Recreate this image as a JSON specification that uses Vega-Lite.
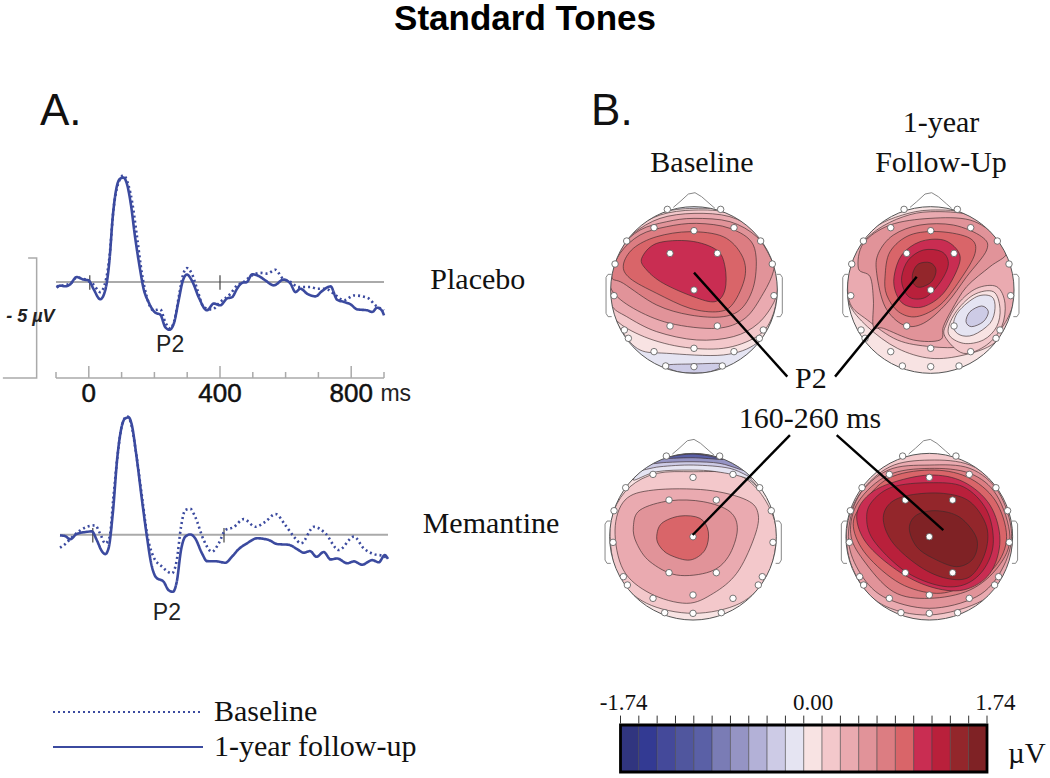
{"$schema":"https://vega.github.io/schema/vega-lite/v6.json","width":1050,"height":778,"padding":0,"autosize":{"type":"none"},"background":"white","config":{"axis":{"disable":true},"view":{"stroke":null}},
"resolve":{"scale":{"x":"independent","y":"independent"}},
"datasets":{
"electrodes":[{"x":0,"y":-178},{"x":-120,"y":-187},{"x":120,"y":-187},{"x":-72,"y":-110},{"x":70,"y":-110},{"x":0,"y":0},{"x":-240,"y":17},{"x":240,"y":17},{"x":-72,"y":108},{"x":70,"y":108},{"x":-120,"y":185},{"x":0,"y":175},{"x":120,"y":185},{"x":-209,"y":120},{"x":208,"y":120},{"x":0,"y":230},{"x":-202,"y":-147},{"x":200,"y":-147},{"x":-237,"y":-78},{"x":235,"y":-78},{"x":-80,"y":-242},{"x":80,"y":-242},{"x":-197,"y":145},{"x":196,"y":145},{"x":-85,"y":228},{"x":85,"y":228}],
"outline":[{"c":"nose","x":-62,"y":-248},{"c":"nose","x":-42,"y":-265},{"c":"nose","x":-17,"y":-288},{"c":"nose","x":3,"y":-292},{"c":"nose","x":23,"y":-280},{"c":"nose","x":48,"y":-258},{"c":"nose","x":63,"y":-245},{"c":"earL","x":-247,"y":-47},{"c":"earL","x":-258,"y":-47},{"c":"earL","x":-264,"y":-38},{"c":"earL","x":-264,"y":70},{"c":"earL","x":-258,"y":80},{"c":"earL","x":-247,"y":80},{"c":"earR","x":248,"y":-47},{"c":"earR","x":259,"y":-47},{"c":"earR","x":265,"y":-38},{"c":"earR","x":265,"y":70},{"c":"earR","x":259,"y":80},{"c":"earR","x":248,"y":80}],
"center":[{"x":0,"y":0}]
},
"layer":[
{"encoding":{"x":{"field":"ms","type":"quantitative","scale":{"domain":[-100,900],"range":[56,384],"nice":false,"zero":false}},"y":{"field":"uV","type":"quantitative","scale":{"domain":[-5,5],"range":[162,402],"nice":false,"zero":false}}},
"layer":[
{"data":{"values":[{"ms":1330,"uV":-10.5,"t":"Standard Tones"}]},"mark":{"type":"text","font":"Liberation Sans","fontSize":35,"fontWeight":"bold","align":"center","baseline":"alphabetic","color":"#000"},"encoding":{"text":{"field":"t"}}},
{"data":{"values":[{"ms":-100,"ms2":900,"uV":0}]},"mark":{"type":"rule","color":"#aaaaaa","strokeWidth":2},"encoding":{"x2":{"field":"ms2"}}},
{"data":{"values":[{"ms":-100,"ms2":900,"uV":4}]},"mark":{"type":"rule","color":"#aaaaaa","strokeWidth":1.5},"encoding":{"x2":{"field":"ms2"}}},
{"data":{"values":[{"ms":-100,"uV":3.75,"uV2":4},{"ms":0,"uV":3.5,"uV2":4},{"ms":100,"uV":3.75,"uV2":4},{"ms":200,"uV":3.75,"uV2":4},{"ms":300,"uV":3.75,"uV2":4},{"ms":400,"uV":3.5,"uV2":4},{"ms":500,"uV":3.75,"uV2":4},{"ms":600,"uV":3.75,"uV2":4},{"ms":700,"uV":3.75,"uV2":4},{"ms":800,"uV":3.5,"uV2":4},{"ms":900,"uV":3.75,"uV2":4}]},"mark":{"type":"rule","color":"#aaaaaa","strokeWidth":1.5},"encoding":{"y2":{"field":"uV2"}}},
{"data":{"values":[{"ms":-185,"uV":-1},{"ms":-159,"uV":-1},{"ms":-159,"uV":4},{"ms":-262,"uV":4}]},"mark":{"type":"line","color":"#aaaaaa","strokeWidth":1.5,"order":false}},
{"data":{"values":[{"ms":3,"uV":-0.28,"uV2":0.32},{"ms":400,"uV":-0.28,"uV2":0.32}]},"mark":{"type":"rule","color":"#444444","strokeWidth":1.2},"encoding":{"y2":{"field":"uV2"}}},
{"data":{"values":[
{"s":"Baseline","ms":-98,"uV":0.18},{"s":"Baseline","ms":-77,"uV":0.14},{"s":"Baseline","ms":-57,"uV":0.07},{"s":"Baseline","ms":-37,"uV":-0.18},{"s":"Baseline","ms":-6,"uV":-0.07},{"s":"Baseline","ms":14,"uV":0.1},{"s":"Baseline","ms":35,"uV":0.42},{"s":"Baseline","ms":53,"uV":-0.14},{"s":"Baseline","ms":63,"uV":-1.04},{"s":"Baseline","ms":75,"uV":-2.99},{"s":"Baseline","ms":88,"uV":-4.03},{"s":"Baseline","ms":106,"uV":-4.44},{"s":"Baseline","ms":121,"uV":-4.03},{"s":"Baseline","ms":133,"uV":-3.26},{"s":"Baseline","ms":147,"uV":-1.88},{"s":"Baseline","ms":162,"uV":-0.35},{"s":"Baseline","ms":177,"uV":0.63},{"s":"Baseline","ms":197,"uV":1.18},{"s":"Baseline","ms":218,"uV":1.14},{"s":"Baseline","ms":233,"uV":1.67},{"s":"Baseline","ms":248,"uV":1.94},{"s":"Baseline","ms":261,"uV":1.6},{"s":"Baseline","ms":276,"uV":0.49},{"s":"Baseline","ms":287,"uV":-0.28},{"s":"Baseline","ms":299,"uV":-0.58},{"s":"Baseline","ms":315,"uV":-0.32},{"s":"Baseline","ms":330,"uV":0.28},{"s":"Baseline","ms":350,"uV":1.04},{"s":"Baseline","ms":376,"uV":1.15},{"s":"Baseline","ms":401,"uV":0.83},{"s":"Baseline","ms":432,"uV":0.49},{"s":"Baseline","ms":452,"uV":0.14},{"s":"Baseline","ms":472,"uV":0},{"s":"Baseline","ms":498,"uV":-0.28},{"s":"Baseline","ms":523,"uV":-0.38},{"s":"Baseline","ms":544,"uV":-0.35},{"s":"Baseline","ms":569,"uV":-0.51},{"s":"Baseline","ms":589,"uV":-0.18},{"s":"Baseline","ms":615,"uV":0},{"s":"Baseline","ms":640,"uV":0.21},{"s":"Baseline","ms":676,"uV":0.21},{"s":"Baseline","ms":696,"uV":0.28},{"s":"Baseline","ms":722,"uV":0.28},{"s":"Baseline","ms":747,"uV":0.49},{"s":"Baseline","ms":778,"uV":0.76},{"s":"Baseline","ms":808,"uV":0.56},{"s":"Baseline","ms":849,"uV":0.65},{"s":"Baseline","ms":874,"uV":0.97},{"s":"Baseline","ms":900,"uV":1.18},
{"s":"1-year follow-up","ms":-98,"uV":0.24},{"s":"1-year follow-up","ms":-88,"uV":0.15},{"s":"1-year follow-up","ms":-72,"uV":0.18},{"s":"1-year follow-up","ms":-57,"uV":0.1},{"s":"1-year follow-up","ms":-37,"uV":-0.21},{"s":"1-year follow-up","ms":-16,"uV":-0.1},{"s":"1-year follow-up","ms":-1,"uV":-0.07},{"s":"1-year follow-up","ms":14,"uV":0.28},{"s":"1-year follow-up","ms":35,"uV":0.72},{"s":"1-year follow-up","ms":50,"uV":0.35},{"s":"1-year follow-up","ms":63,"uV":-0.9},{"s":"1-year follow-up","ms":73,"uV":-2.71},{"s":"1-year follow-up","ms":85,"uV":-3.96},{"s":"1-year follow-up","ms":96,"uV":-4.31},{"s":"1-year follow-up","ms":106,"uV":-4.35},{"s":"1-year follow-up","ms":116,"uV":-4.1},{"s":"1-year follow-up","ms":128,"uV":-3.26},{"s":"1-year follow-up","ms":141,"uV":-1.88},{"s":"1-year follow-up","ms":155,"uV":-0.63},{"s":"1-year follow-up","ms":167,"uV":0.28},{"s":"1-year follow-up","ms":182,"uV":0.83},{"s":"1-year follow-up","ms":203,"uV":1.28},{"s":"1-year follow-up","ms":218,"uV":1.36},{"s":"1-year follow-up","ms":233,"uV":1.88},{"s":"1-year follow-up","ms":246,"uV":1.99},{"s":"1-year follow-up","ms":259,"uV":1.74},{"s":"1-year follow-up","ms":274,"uV":0.76},{"s":"1-year follow-up","ms":287,"uV":-0.07},{"s":"1-year follow-up","ms":299,"uV":-0.31},{"s":"1-year follow-up","ms":315,"uV":-0.04},{"s":"1-year follow-up","ms":335,"uV":0.63},{"s":"1-year follow-up","ms":360,"uV":1.18},{"s":"1-year follow-up","ms":381,"uV":0.9},{"s":"1-year follow-up","ms":401,"uV":0.97},{"s":"1-year follow-up","ms":421,"uV":0.69},{"s":"1-year follow-up","ms":437,"uV":0.63},{"s":"1-year follow-up","ms":452,"uV":0.28},{"s":"1-year follow-up","ms":467,"uV":0.04},{"s":"1-year follow-up","ms":482,"uV":0},{"s":"1-year follow-up","ms":498,"uV":-0.32},{"s":"1-year follow-up","ms":518,"uV":-0.25},{"s":"1-year follow-up","ms":538,"uV":-0.07},{"s":"1-year follow-up","ms":564,"uV":0.14},{"s":"1-year follow-up","ms":594,"uV":-0.1},{"s":"1-year follow-up","ms":615,"uV":0.07},{"s":"1-year follow-up","ms":630,"uV":0.42},{"s":"1-year follow-up","ms":645,"uV":0.28},{"s":"1-year follow-up","ms":666,"uV":0.49},{"s":"1-year follow-up","ms":691,"uV":0.6},{"s":"1-year follow-up","ms":711,"uV":0.38},{"s":"1-year follow-up","ms":737,"uV":0.18},{"s":"1-year follow-up","ms":757,"uV":0.74},{"s":"1-year follow-up","ms":778,"uV":0.83},{"s":"1-year follow-up","ms":798,"uV":0.93},{"s":"1-year follow-up","ms":818,"uV":1.14},{"s":"1-year follow-up","ms":849,"uV":1.18},{"s":"1-year follow-up","ms":864,"uV":1.25},{"s":"1-year follow-up","ms":879,"uV":1.07},{"s":"1-year follow-up","ms":893,"uV":1.18},{"s":"1-year follow-up","ms":900,"uV":1.39}]},
"mark":{"type":"line","color":"#3b4a9f","strokeWidth":2.6,"interpolate":"monotone"},"encoding":{"strokeDash":{"field":"s","type":"nominal","scale":{"domain":["Baseline","1-year follow-up"],"range":[[2,3],[1,0]]},"legend":null}}},
{"data":{"values":[{"ms":248,"uV":2.9,"t":"P2"}]},"mark":{"type":"text","font":"Liberation Sans","fontSize":23,"align":"center","baseline":"alphabetic","color":"#222"},"encoding":{"text":{"field":"t"}}},
{"data":{"values":[{"ms":0,"uV":4.99,"t":"0"},{"ms":400,"uV":4.99,"t":"400"},{"ms":800,"uV":4.99,"t":"800"}]},"mark":{"type":"text","font":"Liberation Sans","fontSize":26,"align":"center","baseline":"alphabetic","color":"#111","stroke":"#111","strokeWidth":0.5},"encoding":{"text":{"field":"t"}}},
{"data":{"values":[{"ms":889,"uV":4.95,"t":"ms"}]},"mark":{"type":"text","font":"Liberation Sans","fontSize":23,"align":"left","baseline":"alphabetic","color":"#222"},"encoding":{"text":{"field":"t"}}},
{"data":{"values":[{"ms":-252,"uV":1.65,"t":"- 5  µV"}]},"mark":{"type":"text","font":"Liberation Sans","fontSize":18,"fontWeight":"bold","fontStyle":"italic","align":"left","baseline":"alphabetic","color":"#222"},"encoding":{"text":{"field":"t"}}},
{"data":{"values":[{"ms":-149,"uV":-6.54,"t":"A."}]},"mark":{"type":"text","font":"Liberation Sans","fontSize":44,"align":"left","baseline":"alphabetic","color":"#111"},"encoding":{"text":{"field":"t"}}},
{"data":{"values":[{"ms":1186,"uV":0.29,"t":"Placebo"}]},"mark":{"type":"text","font":"Liberation Serif","fontSize":30,"align":"center","baseline":"alphabetic","color":"#111"},"encoding":{"text":{"field":"t"}}}
]},
{"encoding":{"x":{"field":"ms","type":"quantitative","scale":{"domain":[-100,900],"range":[60,388],"nice":false,"zero":false}},"y":{"field":"uV","type":"quantitative","scale":{"domain":[-5,5],"range":[414.7,654.7],"nice":false,"zero":false}}},
"layer":[
{"data":{"values":[{"ms":-100,"ms2":900,"uV":0}]},"mark":{"type":"rule","color":"#aaaaaa","strokeWidth":2},"encoding":{"x2":{"field":"ms2"}}},
{"data":{"values":[{"ms":0,"uV":-0.28,"uV2":0.32},{"ms":400,"uV":-0.28,"uV2":0.32}]},"mark":{"type":"rule","color":"#444444","strokeWidth":1.2},"encoding":{"y2":{"field":"uV2"}}},
{"data":{"values":[
{"s":"Baseline","ms":-100,"uV":0.54},{"s":"Baseline","ms":-84,"uV":0.39},{"s":"Baseline","ms":-64,"uV":0.11},{"s":"Baseline","ms":-39,"uV":-0.17},{"s":"Baseline","ms":-18,"uV":-0.33},{"s":"Baseline","ms":7,"uV":-0.39},{"s":"Baseline","ms":22,"uV":-0.06},{"s":"Baseline","ms":38,"uV":0.36},{"s":"Baseline","ms":51,"uV":0.11},{"s":"Baseline","ms":63,"uV":-1.58},{"s":"Baseline","ms":75,"uV":-3.25},{"s":"Baseline","ms":88,"uV":-4.5},{"s":"Baseline","ms":104,"uV":-4.94},{"s":"Baseline","ms":119,"uV":-4.5},{"s":"Baseline","ms":132,"uV":-3.39},{"s":"Baseline","ms":150,"uV":-1.58},{"s":"Baseline","ms":165,"uV":-0.06},{"s":"Baseline","ms":185,"uV":0.92},{"s":"Baseline","ms":211,"uV":1.33},{"s":"Baseline","ms":241,"uV":1.61},{"s":"Baseline","ms":256,"uV":1.06},{"s":"Baseline","ms":269,"uV":-0.33},{"s":"Baseline","ms":282,"uV":-1.03},{"s":"Baseline","ms":297,"uV":-1.08},{"s":"Baseline","ms":312,"uV":-0.75},{"s":"Baseline","ms":338,"uV":0.22},{"s":"Baseline","ms":363,"uV":0.71},{"s":"Baseline","ms":384,"uV":0.36},{"s":"Baseline","ms":404,"uV":-0.19},{"s":"Baseline","ms":429,"uV":-0.31},{"s":"Baseline","ms":460,"uV":-0.65},{"s":"Baseline","ms":496,"uV":-0.33},{"s":"Baseline","ms":526,"uV":-0.54},{"s":"Baseline","ms":557,"uV":-0.86},{"s":"Baseline","ms":587,"uV":-0.4},{"s":"Baseline","ms":613,"uV":0.08},{"s":"Baseline","ms":635,"uV":0.36},{"s":"Baseline","ms":674,"uV":-0.33},{"s":"Baseline","ms":709,"uV":-0.06},{"s":"Baseline","ms":750,"uV":0.64},{"s":"Baseline","ms":796,"uV":0.08},{"s":"Baseline","ms":826,"uV":0.57},{"s":"Baseline","ms":857,"uV":0.81},{"s":"Baseline","ms":887,"uV":0.89},{"s":"Baseline","ms":900,"uV":1.01},
{"s":"1-year follow-up","ms":-100,"uV":0.03},{"s":"1-year follow-up","ms":-84,"uV":0.06},{"s":"1-year follow-up","ms":-69,"uV":0.19},{"s":"1-year follow-up","ms":-49,"uV":-0.03},{"s":"1-year follow-up","ms":-23,"uV":-0.11},{"s":"1-year follow-up","ms":-3,"uV":-0.14},{"s":"1-year follow-up","ms":12,"uV":0.22},{"s":"1-year follow-up","ms":27,"uV":0.67},{"s":"1-year follow-up","ms":38,"uV":0.81},{"s":"1-year follow-up","ms":48,"uV":0.57},{"s":"1-year follow-up","ms":61,"uV":-0.89},{"s":"1-year follow-up","ms":75,"uV":-3.25},{"s":"1-year follow-up","ms":88,"uV":-4.5},{"s":"1-year follow-up","ms":99,"uV":-4.85},{"s":"1-year follow-up","ms":109,"uV":-4.89},{"s":"1-year follow-up","ms":119,"uV":-4.57},{"s":"1-year follow-up","ms":132,"uV":-3.39},{"s":"1-year follow-up","ms":150,"uV":-1.44},{"s":"1-year follow-up","ms":165,"uV":0.08},{"s":"1-year follow-up","ms":177,"uV":1.13},{"s":"1-year follow-up","ms":193,"uV":1.78},{"s":"1-year follow-up","ms":216,"uV":1.96},{"s":"1-year follow-up","ms":231,"uV":2.31},{"s":"1-year follow-up","ms":244,"uV":2.38},{"s":"1-year follow-up","ms":256,"uV":1.96},{"s":"1-year follow-up","ms":269,"uV":0.64},{"s":"1-year follow-up","ms":282,"uV":0.08},{"s":"1-year follow-up","ms":297,"uV":-0.01},{"s":"1-year follow-up","ms":312,"uV":0.15},{"s":"1-year follow-up","ms":333,"uV":0.78},{"s":"1-year follow-up","ms":348,"uV":1.1},{"s":"1-year follow-up","ms":379,"uV":1.11},{"s":"1-year follow-up","ms":404,"uV":1.17},{"s":"1-year follow-up","ms":424,"uV":0.92},{"s":"1-year follow-up","ms":445,"uV":0.6},{"s":"1-year follow-up","ms":470,"uV":0.36},{"s":"1-year follow-up","ms":501,"uV":0.15},{"s":"1-year follow-up","ms":536,"uV":0.22},{"s":"1-year follow-up","ms":562,"uV":0.39},{"s":"1-year follow-up","ms":597,"uV":0.42},{"s":"1-year follow-up","ms":623,"uV":0.6},{"s":"1-year follow-up","ms":643,"uV":0.75},{"s":"1-year follow-up","ms":662,"uV":0.68},{"s":"1-year follow-up","ms":682,"uV":0.92},{"s":"1-year follow-up","ms":704,"uV":0.72},{"s":"1-year follow-up","ms":725,"uV":1.03},{"s":"1-year follow-up","ms":745,"uV":0.99},{"s":"1-year follow-up","ms":776,"uV":1.19},{"s":"1-year follow-up","ms":796,"uV":1.11},{"s":"1-year follow-up","ms":821,"uV":1.25},{"s":"1-year follow-up","ms":852,"uV":1.06},{"s":"1-year follow-up","ms":872,"uV":1.15},{"s":"1-year follow-up","ms":890,"uV":0.85},{"s":"1-year follow-up","ms":900,"uV":1.01}]},
"mark":{"type":"line","color":"#3b4a9f","strokeWidth":2.6,"interpolate":"monotone"},"encoding":{"strokeDash":{"field":"s","type":"nominal","scale":{"domain":["Baseline","1-year follow-up"],"range":[[2,3],[1,0]]},"legend":null}}},
{"data":{"values":[{"ms":226,"uV":3.55,"t":"P2"}]},"mark":{"type":"text","font":"Liberation Sans","fontSize":23,"align":"center","baseline":"alphabetic","color":"#222"},"encoding":{"text":{"field":"t"}}},
{"data":{"values":[{"ms":1214,"uV":-0.07,"t":"Memantine"}]},"mark":{"type":"text","font":"Liberation Serif","fontSize":30,"align":"center","baseline":"alphabetic","color":"#111"},"encoding":{"text":{"field":"t"}}}
]},
{"encoding":{"x":{"field":"x","type":"quantitative","scale":{"domain":[-250,250],"range":[610.7,777.3],"nice":false,"zero":false}},"y":{"field":"y","type":"quantitative","scale":{"domain":[-250,250],"range":[206.7,373.3],"nice":false,"zero":false}}},
"layer":[
{"data":{"values":[{"x":0,"y":0,"v":-0.087}]},"mark":{"type":"point","filled":true,"size":27778,"opacity":1},"encoding":{"fill":{"field":"v","type":"quantitative","scale":{"type":"threshold","domain":[-1.566,-1.392,-1.218,-1.044,-0.87,-0.696,-0.522,-0.348,-0.174,0,0.174,0.348,0.522,0.696,0.87,1.044,1.218,1.392,1.566],"range":["#30357f","#333a93","#44499a","#50569e","#5a60a6","#7a7cb5","#9594c4","#b3b1d7","#cdcbe6","#e5e4f2","#f8e3e3","#f3c8cb","#eaaab0","#e19399","#dc7d82","#d96569","#c92d52","#b9203b","#93262b","#7f2225"]},"legend":null}}},
{"data":{"values":[
{"c":1,"v":0.087,"x":-212,"y":130},{"c":1,"v":0.087,"x":-242,"y":70},{"c":1,"v":0.087,"x":-250,"y":0},{"c":1,"v":0.087,"x":-237,"y":-100},{"c":1,"v":0.087,"x":-192,"y":-175},{"c":1,"v":0.087,"x":-102,"y":-230},{"c":1,"v":0.087,"x":0,"y":-245},{"c":1,"v":0.087,"x":108,"y":-235},{"c":1,"v":0.087,"x":198,"y":-180},{"c":1,"v":0.087,"x":243,"y":-95},{"c":1,"v":0.087,"x":251,"y":0},{"c":1,"v":0.087,"x":233,"y":90},{"c":1,"v":0.087,"x":188,"y":160},{"c":1,"v":0.087,"x":88,"y":195},{"c":1,"v":0.087,"x":-82,"y":190},{"c":1,"v":0.087,"x":-162,"y":180},
{"c":2,"v":0.261,"x":-242,"y":80},{"c":2,"v":0.261,"x":-250,"y":0},{"c":2,"v":0.261,"x":-232,"y":-120},{"c":2,"v":0.261,"x":-182,"y":-180},{"c":2,"v":0.261,"x":-102,"y":-225},{"c":2,"v":0.261,"x":0,"y":-240},{"c":2,"v":0.261,"x":108,"y":-230},{"c":2,"v":0.261,"x":198,"y":-175},{"c":2,"v":0.261,"x":243,"y":-95},{"c":2,"v":0.261,"x":251,"y":0},{"c":2,"v":0.261,"x":233,"y":85},{"c":2,"v":0.261,"x":188,"y":140},{"c":2,"v":0.261,"x":88,"y":175},{"c":2,"v":0.261,"x":-42,"y":170},{"c":2,"v":0.261,"x":-162,"y":135},
{"c":3,"v":0.435,"x":-247,"y":45},{"c":3,"v":0.435,"x":-250,"y":-30},{"c":3,"v":0.435,"x":-232,"y":-115},{"c":3,"v":0.435,"x":-182,"y":-170},{"c":3,"v":0.435,"x":-102,"y":-215},{"c":3,"v":0.435,"x":0,"y":-230},{"c":3,"v":0.435,"x":108,"y":-220},{"c":3,"v":0.435,"x":188,"y":-175},{"c":3,"v":0.435,"x":238,"y":-105},{"c":3,"v":0.435,"x":250,"y":-30},{"c":3,"v":0.435,"x":243,"y":30},{"c":3,"v":0.435,"x":193,"y":100},{"c":3,"v":0.435,"x":118,"y":140},{"c":3,"v":0.435,"x":8,"y":150},{"c":3,"v":0.435,"x":-112,"y":125},{"c":3,"v":0.435,"x":-202,"y":80},
{"c":4,"v":0.609,"x":-247,"y":0},{"c":4,"v":0.609,"x":-247,"y":-60},{"c":4,"v":0.609,"x":-222,"y":-125},{"c":4,"v":0.609,"x":-162,"y":-180},{"c":4,"v":0.609,"x":-82,"y":-205},{"c":4,"v":0.609,"x":0,"y":-215},{"c":4,"v":0.609,"x":108,"y":-205},{"c":4,"v":0.609,"x":188,"y":-160},{"c":4,"v":0.609,"x":233,"y":-90},{"c":4,"v":0.609,"x":238,"y":-55},{"c":4,"v":0.609,"x":208,"y":10},{"c":4,"v":0.609,"x":153,"y":85},{"c":4,"v":0.609,"x":68,"y":115},{"c":4,"v":0.609,"x":-72,"y":100},{"c":4,"v":0.609,"x":-182,"y":55},
{"c":5,"v":0.783,"x":-247,"y":-40},{"c":5,"v":0.783,"x":-222,"y":-110},{"c":5,"v":0.783,"x":-162,"y":-165},{"c":5,"v":0.783,"x":-82,"y":-190},{"c":5,"v":0.783,"x":8,"y":-200},{"c":5,"v":0.783,"x":108,"y":-185},{"c":5,"v":0.783,"x":178,"y":-135},{"c":5,"v":0.783,"x":183,"y":-30},{"c":5,"v":0.783,"x":148,"y":50},{"c":5,"v":0.783,"x":88,"y":80},{"c":5,"v":0.783,"x":-12,"y":75},{"c":5,"v":0.783,"x":-112,"y":45},{"c":5,"v":0.783,"x":-212,"y":-20},
{"c":6,"v":0.957,"x":-212,"y":-75},{"c":6,"v":0.957,"x":-182,"y":-125},{"c":6,"v":0.957,"x":-112,"y":-160},{"c":6,"v":0.957,"x":-12,"y":-175},{"c":6,"v":0.957,"x":88,"y":-160},{"c":6,"v":0.957,"x":143,"y":-105},{"c":6,"v":0.957,"x":153,"y":-40},{"c":6,"v":0.957,"x":118,"y":40},{"c":6,"v":0.957,"x":73,"y":65},{"c":6,"v":0.957,"x":-12,"y":55},{"c":6,"v":0.957,"x":-112,"y":10},{"c":6,"v":0.957,"x":-192,"y":-35},
{"c":7,"v":1.131,"x":-157,"y":-95},{"c":7,"v":1.131,"x":-112,"y":-140},{"c":7,"v":1.131,"x":-12,"y":-147},{"c":7,"v":1.131,"x":68,"y":-120},{"c":7,"v":1.131,"x":93,"y":-70},{"c":7,"v":1.131,"x":93,"y":0},{"c":7,"v":1.131,"x":63,"y":35},{"c":7,"v":1.131,"x":-2,"y":20},{"c":7,"v":1.131,"x":-92,"y":-20},{"c":7,"v":1.131,"x":-142,"y":-60},
{"c":8,"v":-0.261,"x":-85,"y":226},{"c":8,"v":-0.261,"x":0,"y":222},{"c":8,"v":-0.261,"x":90,"y":222},{"c":8,"v":-0.261,"x":50,"y":245},{"c":8,"v":-0.261,"x":0,"y":249},{"c":8,"v":-0.261,"x":-50,"y":245}]},
"mark":{"type":"line","interpolate":"cardinal-closed","order":false,"stroke":"#3a2a2a","strokeWidth":0.8,"strokeOpacity":0.8},"encoding":{"detail":{"field":"c"},"fill":{"field":"v","type":"quantitative","scale":{"type":"threshold","domain":[-1.566,-1.392,-1.218,-1.044,-0.87,-0.696,-0.522,-0.348,-0.174,0,0.174,0.348,0.522,0.696,0.87,1.044,1.218,1.392,1.566],"range":["#30357f","#333a93","#44499a","#50569e","#5a60a6","#7a7cb5","#9594c4","#b3b1d7","#cdcbe6","#e5e4f2","#f8e3e3","#f3c8cb","#eaaab0","#e19399","#dc7d82","#d96569","#c92d52","#b9203b","#93262b","#7f2225"]},"legend":null}}},
{"data":{"name":"center"},"mark":{"type":"point","filled":false,"size":31900,"stroke":"white","strokeWidth":12,"opacity":1}},
{"data":{"name":"center"},"mark":{"type":"point","filled":false,"size":27778,"stroke":"#555555","strokeWidth":1,"opacity":1}},
{"data":{"name":"outline"},"mark":{"type":"line","order":false,"stroke":"#888888","strokeWidth":1},"encoding":{"detail":{"field":"c"}}},
{"data":{"name":"electrodes"},"mark":{"type":"point","filled":true,"size":42,"fill":"white","stroke":"#555555","strokeWidth":0.8,"opacity":1}},
{"data":{"values":[{"x":0,"y":-52,"x2":280,"y2":260}]},"mark":{"type":"rule","color":"#000","strokeWidth":2.4},"encoding":{"x2":{"field":"x2"},"y2":{"field":"y2"}}},
{"data":{"values":[{"x":24,"y":-354,"t":"Baseline"},{"x":351,"y":294,"t":"P2"},{"x":348,"y":414,"t":"160-260 ms"}]},"mark":{"type":"text","font":"Liberation Serif","fontSize":30,"align":"center","baseline":"alphabetic","color":"#111"},"encoding":{"text":{"field":"t"}}},
{"data":{"values":[{"x":-309,"y":-495,"t":"B."}]},"mark":{"type":"text","font":"Liberation Sans","fontSize":44,"align":"left","baseline":"alphabetic","color":"#111"},"encoding":{"text":{"field":"t"}}}
]},
{"encoding":{"x":{"field":"x","type":"quantitative","scale":{"domain":[-250,250],"range":[847.4,1014],"nice":false,"zero":false}},"y":{"field":"y","type":"quantitative","scale":{"domain":[-250,250],"range":[206.7,373.3],"nice":false,"zero":false}}},
"layer":[
{"data":{"values":[{"x":0,"y":0,"v":0.087}]},"mark":{"type":"point","filled":true,"size":27778,"opacity":1},"encoding":{"fill":{"field":"v","type":"quantitative","scale":{"type":"threshold","domain":[-1.566,-1.392,-1.218,-1.044,-0.87,-0.696,-0.522,-0.348,-0.174,0,0.174,0.348,0.522,0.696,0.87,1.044,1.218,1.392,1.566],"range":["#30357f","#333a93","#44499a","#50569e","#5a60a6","#7a7cb5","#9594c4","#b3b1d7","#cdcbe6","#e5e4f2","#f8e3e3","#f3c8cb","#eaaab0","#e19399","#dc7d82","#d96569","#c92d52","#b9203b","#93262b","#7f2225"]},"legend":null}}},
{"data":{"values":[
{"c":1,"v":0.261,"x":-245,"y":40},{"c":1,"v":0.261,"x":-250,"y":-40},{"c":1,"v":0.261,"x":-225,"y":-130},{"c":1,"v":0.261,"x":-165,"y":-190},{"c":1,"v":0.261,"x":-85,"y":-225},{"c":1,"v":0.261,"x":0,"y":-240},{"c":1,"v":0.261,"x":118,"y":-230},{"c":1,"v":0.261,"x":198,"y":-180},{"c":1,"v":0.261,"x":243,"y":-85},{"c":1,"v":0.261,"x":250,"y":0},{"c":1,"v":0.261,"x":238,"y":90},{"c":1,"v":0.261,"x":190,"y":160},{"c":1,"v":0.261,"x":100,"y":195},{"c":1,"v":0.261,"x":0,"y":205},{"c":1,"v":0.261,"x":-100,"y":175},{"c":1,"v":0.261,"x":-190,"y":110},
{"c":2,"v":0.435,"x":-242,"y":40},{"c":2,"v":0.435,"x":-247,"y":-50},{"c":2,"v":0.435,"x":-222,"y":-120},{"c":2,"v":0.435,"x":-162,"y":-180},{"c":2,"v":0.435,"x":-82,"y":-220},{"c":2,"v":0.435,"x":0,"y":-235},{"c":2,"v":0.435,"x":118,"y":-225},{"c":2,"v":0.435,"x":198,"y":-175},{"c":2,"v":0.435,"x":243,"y":-80},{"c":2,"v":0.435,"x":251,"y":0},{"c":2,"v":0.435,"x":238,"y":70},{"c":2,"v":0.435,"x":188,"y":140},{"c":2,"v":0.435,"x":100,"y":170},{"c":2,"v":0.435,"x":0,"y":170},{"c":2,"v":0.435,"x":-100,"y":150},{"c":2,"v":0.435,"x":-190,"y":90},
{"c":3,"v":0.609,"x":-217,"y":-65},{"c":3,"v":0.609,"x":-202,"y":-140},{"c":3,"v":0.609,"x":-122,"y":-195},{"c":3,"v":0.609,"x":-2,"y":-215},{"c":3,"v":0.609,"x":118,"y":-210},{"c":3,"v":0.609,"x":198,"y":-160},{"c":3,"v":0.609,"x":228,"y":-110},{"c":3,"v":0.609,"x":178,"y":-70},{"c":3,"v":0.609,"x":108,"y":-10},{"c":3,"v":0.609,"x":63,"y":60},{"c":3,"v":0.609,"x":38,"y":110},{"c":3,"v":0.609,"x":28,"y":150},{"c":3,"v":0.609,"x":-52,"y":150},{"c":3,"v":0.609,"x":-142,"y":115},{"c":3,"v":0.609,"x":-172,"y":110},{"c":3,"v":0.609,"x":-172,"y":30},{"c":3,"v":0.609,"x":-182,"y":-40},
{"c":4,"v":0.783,"x":-162,"y":-50},{"c":4,"v":0.783,"x":-157,"y":-110},{"c":4,"v":0.783,"x":-112,"y":-165},{"c":4,"v":0.783,"x":-32,"y":-195},{"c":4,"v":0.783,"x":68,"y":-195},{"c":4,"v":0.783,"x":153,"y":-160},{"c":4,"v":0.783,"x":168,"y":-120},{"c":4,"v":0.783,"x":108,"y":-40},{"c":4,"v":0.783,"x":48,"y":40},{"c":4,"v":0.783,"x":-22,"y":100},{"c":4,"v":0.783,"x":-82,"y":105},{"c":4,"v":0.783,"x":-137,"y":50},
{"c":5,"v":0.957,"x":-137,"y":-40},{"c":5,"v":0.957,"x":-122,"y":-115},{"c":5,"v":0.957,"x":-62,"y":-165},{"c":5,"v":0.957,"x":28,"y":-175},{"c":5,"v":0.957,"x":118,"y":-155},{"c":5,"v":0.957,"x":133,"y":-110},{"c":5,"v":0.957,"x":88,"y":-30},{"c":5,"v":0.957,"x":28,"y":45},{"c":5,"v":0.957,"x":-42,"y":80},{"c":5,"v":0.957,"x":-97,"y":65},{"c":5,"v":0.957,"x":-132,"y":15},
{"c":6,"v":1.131,"x":-110,"y":-40},{"c":6,"v":1.131,"x":-87,"y":-105},{"c":6,"v":1.131,"x":-32,"y":-145},{"c":6,"v":1.131,"x":38,"y":-150},{"c":6,"v":1.131,"x":83,"y":-115},{"c":6,"v":1.131,"x":83,"y":-70},{"c":6,"v":1.131,"x":38,"y":10},{"c":6,"v":1.131,"x":-22,"y":50},{"c":6,"v":1.131,"x":-77,"y":45},{"c":6,"v":1.131,"x":-104,"y":10},
{"c":7,"v":1.305,"x":-87,"y":-40},{"c":7,"v":1.305,"x":-67,"y":-90},{"c":7,"v":1.305,"x":-22,"y":-120},{"c":7,"v":1.305,"x":33,"y":-115},{"c":7,"v":1.305,"x":53,"y":-80},{"c":7,"v":1.305,"x":33,"y":-30},{"c":7,"v":1.305,"x":-12,"y":20},{"c":7,"v":1.305,"x":-57,"y":25},{"c":7,"v":1.305,"x":-80,"y":0},
{"c":8,"v":1.479,"x":-54,"y":-50},{"c":8,"v":1.479,"x":-37,"y":-78},{"c":8,"v":1.479,"x":-2,"y":-82},{"c":8,"v":1.479,"x":16,"y":-60},{"c":8,"v":1.479,"x":3,"y":-25},{"c":8,"v":1.479,"x":-32,"y":-8},{"c":8,"v":1.479,"x":-52,"y":-20},
{"c":9,"v":0.261,"x":43,"y":140},{"c":9,"v":0.261,"x":48,"y":100},{"c":9,"v":0.261,"x":83,"y":40},{"c":9,"v":0.261,"x":138,"y":-5},{"c":9,"v":0.261,"x":198,"y":-10},{"c":9,"v":0.261,"x":223,"y":40},{"c":9,"v":0.261,"x":213,"y":110},{"c":9,"v":0.261,"x":168,"y":165},{"c":9,"v":0.261,"x":98,"y":190},
{"c":10,"v":0.087,"x":53,"y":130},{"c":10,"v":0.087,"x":73,"y":70},{"c":10,"v":0.087,"x":128,"y":15},{"c":10,"v":0.087,"x":188,"y":5},{"c":10,"v":0.087,"x":208,"y":55},{"c":10,"v":0.087,"x":198,"y":110},{"c":10,"v":0.087,"x":158,"y":150},{"c":10,"v":0.087,"x":98,"y":160},
{"c":11,"v":-0.087,"x":68,"y":110},{"c":11,"v":-0.087,"x":83,"y":65},{"c":11,"v":-0.087,"x":138,"y":20},{"c":11,"v":-0.087,"x":183,"y":20},{"c":11,"v":-0.087,"x":193,"y":55},{"c":11,"v":-0.087,"x":178,"y":100},{"c":11,"v":-0.087,"x":128,"y":135},{"c":11,"v":-0.087,"x":88,"y":135},
{"c":12,"v":-0.261,"x":106,"y":95},{"c":12,"v":-0.261,"x":118,"y":65},{"c":12,"v":-0.261,"x":153,"y":48},{"c":12,"v":-0.261,"x":173,"y":65},{"c":12,"v":-0.261,"x":158,"y":95},{"c":12,"v":-0.261,"x":123,"y":110}]},
"mark":{"type":"line","interpolate":"cardinal-closed","order":false,"stroke":"#3a2a2a","strokeWidth":0.8,"strokeOpacity":0.8},"encoding":{"detail":{"field":"c"},"fill":{"field":"v","type":"quantitative","scale":{"type":"threshold","domain":[-1.566,-1.392,-1.218,-1.044,-0.87,-0.696,-0.522,-0.348,-0.174,0,0.174,0.348,0.522,0.696,0.87,1.044,1.218,1.392,1.566],"range":["#30357f","#333a93","#44499a","#50569e","#5a60a6","#7a7cb5","#9594c4","#b3b1d7","#cdcbe6","#e5e4f2","#f8e3e3","#f3c8cb","#eaaab0","#e19399","#dc7d82","#d96569","#c92d52","#b9203b","#93262b","#7f2225"]},"legend":null}}},
{"data":{"name":"center"},"mark":{"type":"point","filled":false,"size":31900,"stroke":"white","strokeWidth":12,"opacity":1}},
{"data":{"name":"center"},"mark":{"type":"point","filled":false,"size":27778,"stroke":"#555555","strokeWidth":1,"opacity":1}},
{"data":{"name":"outline"},"mark":{"type":"line","order":false,"stroke":"#888888","strokeWidth":1},"encoding":{"detail":{"field":"c"}}},
{"data":{"name":"electrodes"},"mark":{"type":"point","filled":true,"size":42,"fill":"white","stroke":"#555555","strokeWidth":0.8,"opacity":1}},
{"data":{"values":[{"x":-42,"y":-40,"x2":-287,"y2":260}]},"mark":{"type":"rule","color":"#000","strokeWidth":2.4},"encoding":{"x2":{"field":"x2"},"y2":{"field":"y2"}}},
{"data":{"values":[{"x":31,"y":-474,"t":"1-year"},{"x":31,"y":-354,"t":"Follow-Up"}]},"mark":{"type":"text","font":"Liberation Serif","fontSize":30,"align":"center","baseline":"alphabetic","color":"#111"},"encoding":{"text":{"field":"t"}}}
]},
{"encoding":{"x":{"field":"x","type":"quantitative","scale":{"domain":[-250,250],"range":[609.7,776.3],"nice":false,"zero":false}},"y":{"field":"y","type":"quantitative","scale":{"domain":[-250,250],"range":[453.4,620],"nice":false,"zero":false}}},
"layer":[
{"data":{"values":[{"x":0,"y":0,"v":0.087}]},"mark":{"type":"point","filled":true,"size":27778,"opacity":1},"encoding":{"fill":{"field":"v","type":"quantitative","scale":{"type":"threshold","domain":[-1.566,-1.392,-1.218,-1.044,-0.87,-0.696,-0.522,-0.348,-0.174,0,0.174,0.348,0.522,0.696,0.87,1.044,1.218,1.392,1.566],"range":["#30357f","#333a93","#44499a","#50569e","#5a60a6","#7a7cb5","#9594c4","#b3b1d7","#cdcbe6","#e5e4f2","#f8e3e3","#f3c8cb","#eaaab0","#e19399","#dc7d82","#d96569","#c92d52","#b9203b","#93262b","#7f2225"]},"legend":null}}},
{"data":{"values":[
{"c":1,"v":0.261,"x":-249,"y":0},{"c":1,"v":0.261,"x":-237,"y":-80},{"c":1,"v":0.261,"x":-189,"y":-150},{"c":1,"v":0.261,"x":-109,"y":-190},{"c":1,"v":0.261,"x":1,"y":-195},{"c":1,"v":0.261,"x":121,"y":-190},{"c":1,"v":0.261,"x":191,"y":-145},{"c":1,"v":0.261,"x":241,"y":-60},{"c":1,"v":0.261,"x":249,"y":20},{"c":1,"v":0.261,"x":221,"y":120},{"c":1,"v":0.261,"x":141,"y":200},{"c":1,"v":0.261,"x":1,"y":230},{"c":1,"v":0.261,"x":-139,"y":200},{"c":1,"v":0.261,"x":-224,"y":120},
{"c":2,"v":0.435,"x":-234,"y":-20},{"c":2,"v":0.435,"x":-204,"y":-110},{"c":2,"v":0.435,"x":-119,"y":-140},{"c":2,"v":0.435,"x":41,"y":-140},{"c":2,"v":0.435,"x":161,"y":-110},{"c":2,"v":0.435,"x":196,"y":-65},{"c":2,"v":0.435,"x":181,"y":10},{"c":2,"v":0.435,"x":131,"y":110},{"c":2,"v":0.435,"x":61,"y":170},{"c":2,"v":0.435,"x":-19,"y":200},{"c":2,"v":0.435,"x":-129,"y":170},{"c":2,"v":0.435,"x":-209,"y":100},
{"c":3,"v":0.609,"x":-179,"y":-30},{"c":3,"v":0.609,"x":-159,"y":-80},{"c":3,"v":0.609,"x":-69,"y":-108},{"c":3,"v":0.609,"x":31,"y":-105},{"c":3,"v":0.609,"x":111,"y":-75},{"c":3,"v":0.609,"x":133,"y":-20},{"c":3,"v":0.609,"x":106,"y":60},{"c":3,"v":0.609,"x":51,"y":105},{"c":3,"v":0.609,"x":-49,"y":115},{"c":3,"v":0.609,"x":-129,"y":75},{"c":3,"v":0.609,"x":-169,"y":20},
{"c":4,"v":0.957,"x":-109,"y":0},{"c":4,"v":0.957,"x":-94,"y":-40},{"c":4,"v":0.957,"x":-39,"y":-62},{"c":4,"v":0.957,"x":21,"y":-55},{"c":4,"v":0.957,"x":46,"y":-15},{"c":4,"v":0.957,"x":36,"y":40},{"c":4,"v":0.957,"x":-9,"y":70},{"c":4,"v":0.957,"x":-69,"y":55},{"c":4,"v":0.957,"x":-99,"y":30},
{"c":5,"v":-0.087,"x":-179,"y":-170},{"c":5,"v":-0.087,"x":-129,"y":-220},{"c":5,"v":-0.087,"x":-69,"y":-245},{"c":5,"v":-0.087,"x":0,"y":-250},{"c":5,"v":-0.087,"x":71,"y":-240},{"c":5,"v":-0.087,"x":141,"y":-205},{"c":5,"v":-0.087,"x":201,"y":-140},{"c":5,"v":-0.087,"x":161,"y":-175},{"c":5,"v":-0.087,"x":71,"y":-195},{"c":5,"v":-0.087,"x":-9,"y":-200},{"c":5,"v":-0.087,"x":-109,"y":-195},
{"c":6,"v":-0.261,"x":-159,"y":-200},{"c":6,"v":-0.261,"x":-109,"y":-235},{"c":6,"v":-0.261,"x":0,"y":-248},{"c":6,"v":-0.261,"x":101,"y":-235},{"c":6,"v":-0.261,"x":181,"y":-175},{"c":6,"v":-0.261,"x":111,"y":-205},{"c":6,"v":-0.261,"x":1,"y":-215},{"c":6,"v":-0.261,"x":-99,"y":-210},
{"c":7,"v":-0.609,"x":-124,"y":-220},{"c":7,"v":-0.609,"x":-69,"y":-242},{"c":7,"v":-0.609,"x":0,"y":-248},{"c":7,"v":-0.609,"x":81,"y":-238},{"c":7,"v":-0.609,"x":151,"y":-200},{"c":7,"v":-0.609,"x":81,"y":-220},{"c":7,"v":-0.609,"x":0,"y":-225},{"c":7,"v":-0.609,"x":-79,"y":-223},
{"c":8,"v":-0.957,"x":-94,"y":-235},{"c":8,"v":-0.957,"x":0,"y":-248},{"c":8,"v":-0.957,"x":91,"y":-232},{"c":8,"v":-0.957,"x":0,"y":-237}]},
"mark":{"type":"line","interpolate":"cardinal-closed","order":false,"stroke":"#3a2a2a","strokeWidth":0.8,"strokeOpacity":0.8},"encoding":{"detail":{"field":"c"},"fill":{"field":"v","type":"quantitative","scale":{"type":"threshold","domain":[-1.566,-1.392,-1.218,-1.044,-0.87,-0.696,-0.522,-0.348,-0.174,0,0.174,0.348,0.522,0.696,0.87,1.044,1.218,1.392,1.566],"range":["#30357f","#333a93","#44499a","#50569e","#5a60a6","#7a7cb5","#9594c4","#b3b1d7","#cdcbe6","#e5e4f2","#f8e3e3","#f3c8cb","#eaaab0","#e19399","#dc7d82","#d96569","#c92d52","#b9203b","#93262b","#7f2225"]},"legend":null}}},
{"data":{"name":"center"},"mark":{"type":"point","filled":false,"size":31900,"stroke":"white","strokeWidth":12,"opacity":1}},
{"data":{"name":"center"},"mark":{"type":"point","filled":false,"size":27778,"stroke":"#555555","strokeWidth":1,"opacity":1}},
{"data":{"name":"outline"},"mark":{"type":"line","order":false,"stroke":"#888888","strokeWidth":1},"encoding":{"detail":{"field":"c"}}},
{"data":{"name":"electrodes"},"mark":{"type":"point","filled":true,"size":42,"fill":"white","stroke":"#555555","strokeWidth":0.8,"opacity":1}},
{"data":{"values":[{"x":-1,"y":-5,"x2":291,"y2":-305}]},"mark":{"type":"rule","color":"#000","strokeWidth":2.4},"encoding":{"x2":{"field":"x2"},"y2":{"field":"y2"}}}
]},
{"encoding":{"x":{"field":"x","type":"quantitative","scale":{"domain":[-250,250],"range":[846,1012.6],"nice":false,"zero":false}},"y":{"field":"y","type":"quantitative","scale":{"domain":[-250,250],"range":[453.4,620],"nice":false,"zero":false}}},
"layer":[
{"data":{"values":[{"x":0,"y":0,"v":0.261}]},"mark":{"type":"point","filled":true,"size":27778,"opacity":1},"encoding":{"fill":{"field":"v","type":"quantitative","scale":{"type":"threshold","domain":[-1.566,-1.392,-1.218,-1.044,-0.87,-0.696,-0.522,-0.348,-0.174,0,0.174,0.348,0.522,0.696,0.87,1.044,1.218,1.392,1.566],"range":["#30357f","#333a93","#44499a","#50569e","#5a60a6","#7a7cb5","#9594c4","#b3b1d7","#cdcbe6","#e5e4f2","#f8e3e3","#f3c8cb","#eaaab0","#e19399","#dc7d82","#d96569","#c92d52","#b9203b","#93262b","#7f2225"]},"legend":null}}},
{"data":{"values":[
{"c":1,"v":0.435,"x":-248,"y":-20},{"c":1,"v":0.435,"x":-208,"y":-130},{"c":1,"v":0.435,"x":-118,"y":-210},{"c":1,"v":0.435,"x":0,"y":-230},{"c":1,"v":0.435,"x":122,"y":-215},{"c":1,"v":0.435,"x":212,"y":-145},{"c":1,"v":0.435,"x":250,"y":-20},{"c":1,"v":0.435,"x":232,"y":100},{"c":1,"v":0.435,"x":162,"y":190},{"c":1,"v":0.435,"x":0,"y":235},{"c":1,"v":0.435,"x":-148,"y":200},{"c":1,"v":0.435,"x":-228,"y":100},
{"c":2,"v":0.609,"x":-243,"y":0},{"c":2,"v":0.609,"x":-213,"y":-120},{"c":2,"v":0.609,"x":-123,"y":-200},{"c":2,"v":0.609,"x":0,"y":-215},{"c":2,"v":0.609,"x":122,"y":-205},{"c":2,"v":0.609,"x":207,"y":-135},{"c":2,"v":0.609,"x":247,"y":-10},{"c":2,"v":0.609,"x":217,"y":100},{"c":2,"v":0.609,"x":142,"y":180},{"c":2,"v":0.609,"x":0,"y":215},{"c":2,"v":0.609,"x":-138,"y":180},{"c":2,"v":0.609,"x":-213,"y":100},
{"c":3,"v":0.783,"x":-236,"y":-10},{"c":3,"v":0.783,"x":-213,"y":-105},{"c":3,"v":0.783,"x":-123,"y":-185},{"c":3,"v":0.783,"x":0,"y":-205},{"c":3,"v":0.783,"x":122,"y":-190},{"c":3,"v":0.783,"x":202,"y":-125},{"c":3,"v":0.783,"x":242,"y":0},{"c":3,"v":0.783,"x":207,"y":90},{"c":3,"v":0.783,"x":122,"y":160},{"c":3,"v":0.783,"x":0,"y":185},{"c":3,"v":0.783,"x":-108,"y":165},{"c":3,"v":0.783,"x":-198,"y":70},
{"c":4,"v":0.957,"x":-228,"y":-30},{"c":4,"v":0.957,"x":-203,"y":-95},{"c":4,"v":0.957,"x":-123,"y":-175},{"c":4,"v":0.957,"x":0,"y":-200},{"c":4,"v":0.957,"x":112,"y":-180},{"c":4,"v":0.957,"x":197,"y":-110},{"c":4,"v":0.957,"x":232,"y":0},{"c":4,"v":0.957,"x":197,"y":90},{"c":4,"v":0.957,"x":112,"y":145},{"c":4,"v":0.957,"x":22,"y":170},{"c":4,"v":0.957,"x":-88,"y":140},{"c":4,"v":0.957,"x":-188,"y":55},
{"c":5,"v":1.131,"x":-218,"y":-60},{"c":5,"v":1.131,"x":-188,"y":-120},{"c":5,"v":1.131,"x":-118,"y":-160},{"c":5,"v":1.131,"x":0,"y":-185},{"c":5,"v":1.131,"x":102,"y":-165},{"c":5,"v":1.131,"x":182,"y":-95},{"c":5,"v":1.131,"x":212,"y":10},{"c":5,"v":1.131,"x":182,"y":110},{"c":5,"v":1.131,"x":102,"y":160},{"c":5,"v":1.131,"x":2,"y":150},{"c":5,"v":1.131,"x":-98,"y":100},{"c":5,"v":1.131,"x":-188,"y":20},
{"c":6,"v":1.305,"x":-188,"y":-60},{"c":6,"v":1.305,"x":-168,"y":-110},{"c":6,"v":1.305,"x":-108,"y":-150},{"c":6,"v":1.305,"x":0,"y":-162},{"c":6,"v":1.305,"x":102,"y":-150},{"c":6,"v":1.305,"x":172,"y":-80},{"c":6,"v":1.305,"x":192,"y":20},{"c":6,"v":1.305,"x":162,"y":100},{"c":6,"v":1.305,"x":102,"y":145},{"c":6,"v":1.305,"x":22,"y":145},{"c":6,"v":1.305,"x":-78,"y":100},{"c":6,"v":1.305,"x":-168,"y":10},
{"c":7,"v":1.479,"x":-138,"y":-50},{"c":7,"v":1.479,"x":-118,"y":-100},{"c":7,"v":1.479,"x":-58,"y":-125},{"c":7,"v":1.479,"x":42,"y":-130},{"c":7,"v":1.479,"x":122,"y":-105},{"c":7,"v":1.479,"x":172,"y":-30},{"c":7,"v":1.479,"x":167,"y":50},{"c":7,"v":1.479,"x":122,"y":120},{"c":7,"v":1.479,"x":52,"y":125},{"c":7,"v":1.479,"x":-28,"y":90},{"c":7,"v":1.479,"x":-108,"y":20},
{"c":8,"v":1.653,"x":-60,"y":-25},{"c":8,"v":1.653,"x":-38,"y":-65},{"c":8,"v":1.653,"x":22,"y":-78},{"c":8,"v":1.653,"x":92,"y":-58},{"c":8,"v":1.653,"x":142,"y":5},{"c":8,"v":1.653,"x":132,"y":65},{"c":8,"v":1.653,"x":82,"y":90},{"c":8,"v":1.653,"x":12,"y":65},{"c":8,"v":1.653,"x":-38,"y":30}]},
"mark":{"type":"line","interpolate":"cardinal-closed","order":false,"stroke":"#3a2a2a","strokeWidth":0.8,"strokeOpacity":0.8},"encoding":{"detail":{"field":"c"},"fill":{"field":"v","type":"quantitative","scale":{"type":"threshold","domain":[-1.566,-1.392,-1.218,-1.044,-0.87,-0.696,-0.522,-0.348,-0.174,0,0.174,0.348,0.522,0.696,0.87,1.044,1.218,1.392,1.566],"range":["#30357f","#333a93","#44499a","#50569e","#5a60a6","#7a7cb5","#9594c4","#b3b1d7","#cdcbe6","#e5e4f2","#f8e3e3","#f3c8cb","#eaaab0","#e19399","#dc7d82","#d96569","#c92d52","#b9203b","#93262b","#7f2225"]},"legend":null}}},
{"data":{"name":"center"},"mark":{"type":"point","filled":false,"size":31900,"stroke":"white","strokeWidth":12,"opacity":1}},
{"data":{"name":"center"},"mark":{"type":"point","filled":false,"size":27778,"stroke":"#555555","strokeWidth":1,"opacity":1}},
{"data":{"name":"outline"},"mark":{"type":"line","order":false,"stroke":"#888888","strokeWidth":1},"encoding":{"detail":{"field":"c"}}},
{"data":{"name":"electrodes"},"mark":{"type":"point","filled":true,"size":42,"fill":"white","stroke":"#555555","strokeWidth":0.8,"opacity":1}},
{"data":{"values":[{"x":42,"y":-20,"x2":-278,"y2":-305}]},"mark":{"type":"rule","color":"#000","strokeWidth":2.4},"encoding":{"x2":{"field":"x2"},"y2":{"field":"y2"}}}
]},
{"encoding":{"x":{"field":"lo","type":"quantitative","scale":{"domain":[-1.74,1.74],"range":[620.5,987],"nice":false,"zero":false}},"y":{"field":"y","type":"quantitative","scale":{"domain":[0,1],"range":[725,772],"nice":false,"zero":false}}},
"layer":[
{"data":{"values":[{"lo":-1.74,"hi":-1.566,"mid":-1.653,"y":0,"y2":1},{"lo":-1.566,"hi":-1.392,"mid":-1.479,"y":0,"y2":1},{"lo":-1.392,"hi":-1.218,"mid":-1.305,"y":0,"y2":1},{"lo":-1.218,"hi":-1.044,"mid":-1.131,"y":0,"y2":1},{"lo":-1.044,"hi":-0.87,"mid":-0.957,"y":0,"y2":1},{"lo":-0.87,"hi":-0.696,"mid":-0.783,"y":0,"y2":1},{"lo":-0.696,"hi":-0.522,"mid":-0.609,"y":0,"y2":1},{"lo":-0.522,"hi":-0.348,"mid":-0.435,"y":0,"y2":1},{"lo":-0.348,"hi":-0.174,"mid":-0.261,"y":0,"y2":1},{"lo":-0.174,"hi":0,"mid":-0.087,"y":0,"y2":1},{"lo":0,"hi":0.174,"mid":0.087,"y":0,"y2":1},{"lo":0.174,"hi":0.348,"mid":0.261,"y":0,"y2":1},{"lo":0.348,"hi":0.522,"mid":0.435,"y":0,"y2":1},{"lo":0.522,"hi":0.696,"mid":0.609,"y":0,"y2":1},{"lo":0.696,"hi":0.87,"mid":0.783,"y":0,"y2":1},{"lo":0.87,"hi":1.044,"mid":0.957,"y":0,"y2":1},{"lo":1.044,"hi":1.218,"mid":1.131,"y":0,"y2":1},{"lo":1.218,"hi":1.392,"mid":1.305,"y":0,"y2":1},{"lo":1.392,"hi":1.566,"mid":1.479,"y":0,"y2":1},{"lo":1.566,"hi":1.74,"mid":1.653,"y":0,"y2":1}]},
"mark":{"type":"rect","stroke":"#444444","strokeWidth":0.5},"encoding":{"x2":{"field":"hi"},"y2":{"field":"y2"},"fill":{"field":"mid","type":"quantitative","scale":{"type":"threshold","domain":[-1.566,-1.392,-1.218,-1.044,-0.87,-0.696,-0.522,-0.348,-0.174,0,0.174,0.348,0.522,0.696,0.87,1.044,1.218,1.392,1.566],"range":["#30357f","#333a93","#44499a","#50569e","#5a60a6","#7a7cb5","#9594c4","#b3b1d7","#cdcbe6","#e5e4f2","#f8e3e3","#f3c8cb","#eaaab0","#e19399","#dc7d82","#d96569","#c92d52","#b9203b","#93262b","#7f2225"]},"legend":null}}},
{"data":{"values":[{"lo":-1.74,"hi":1.74,"y":0,"y2":1}]},"mark":{"type":"rect","fill":null,"stroke":"#000000","strokeWidth":2.8},"encoding":{"x2":{"field":"hi"},"y2":{"field":"y2"}}},
{"data":{"values":[{"lo":-1.74,"y":-0.2,"y2":-0.03},{"lo":-1.566,"y":-0.2,"y2":-0.03},{"lo":-1.392,"y":-0.2,"y2":-0.03},{"lo":-1.218,"y":-0.2,"y2":-0.03},{"lo":-1.044,"y":-0.2,"y2":-0.03},{"lo":-0.87,"y":-0.2,"y2":-0.03},{"lo":-0.696,"y":-0.2,"y2":-0.03},{"lo":-0.522,"y":-0.2,"y2":-0.03},{"lo":-0.348,"y":-0.2,"y2":-0.03},{"lo":-0.174,"y":-0.2,"y2":-0.03},{"lo":0,"y":-0.2,"y2":-0.03},{"lo":0.174,"y":-0.2,"y2":-0.03},{"lo":0.348,"y":-0.2,"y2":-0.03},{"lo":0.522,"y":-0.2,"y2":-0.03},{"lo":0.696,"y":-0.2,"y2":-0.03},{"lo":0.87,"y":-0.2,"y2":-0.03},{"lo":1.044,"y":-0.2,"y2":-0.03},{"lo":1.218,"y":-0.2,"y2":-0.03},{"lo":1.392,"y":-0.2,"y2":-0.03},{"lo":1.566,"y":-0.2,"y2":-0.03},{"lo":1.74,"y":-0.2,"y2":-0.03}]},"mark":{"type":"rule","color":"#333333","strokeWidth":1},"encoding":{"y2":{"field":"y2"}}},
{"data":{"values":[{"lo":-1.71,"y":-0.31,"t":"-1.74"},{"lo":0.09,"y":-0.31,"t":"0.00"},{"lo":1.82,"y":-0.31,"t":"1.74"}]},"mark":{"type":"text","font":"Liberation Serif","fontSize":23,"align":"center","baseline":"alphabetic","color":"#111"},"encoding":{"text":{"field":"t"}}},
{"data":{"values":[{"lo":1.94,"y":0.8,"t":"µV"}]},"mark":{"type":"text","font":"Liberation Serif","fontSize":29,"align":"left","baseline":"alphabetic","color":"#111"},"encoding":{"text":{"field":"t"}}}
]},
{"encoding":{"x":{"field":"p","type":"quantitative","scale":{"domain":[0,1],"range":[53,203],"nice":false,"zero":false}},"y":{"field":"s","type":"nominal","scale":{"type":"point","domain":["Baseline","1-year follow-up"],"range":[712,747],"padding":0}}},
"layer":[
{"data":{"values":[{"s":"Baseline","p":0},{"s":"Baseline","p":1},{"s":"1-year follow-up","p":0},{"s":"1-year follow-up","p":1}]},"mark":{"type":"line","color":"#3b4a9f","strokeWidth":2},"encoding":{"strokeDash":{"field":"s","type":"nominal","scale":{"domain":["Baseline","1-year follow-up"],"range":[[2,2],[1,0]]},"legend":null}}},
{"data":{"values":[{"s":"Baseline","p":1.073},{"s":"1-year follow-up","p":1.073}]},"mark":{"type":"text","font":"Liberation Serif","fontSize":30,"align":"left","baseline":"alphabetic","dy":9,"color":"#111"},"encoding":{"text":{"field":"s"}}}
]}
]}
